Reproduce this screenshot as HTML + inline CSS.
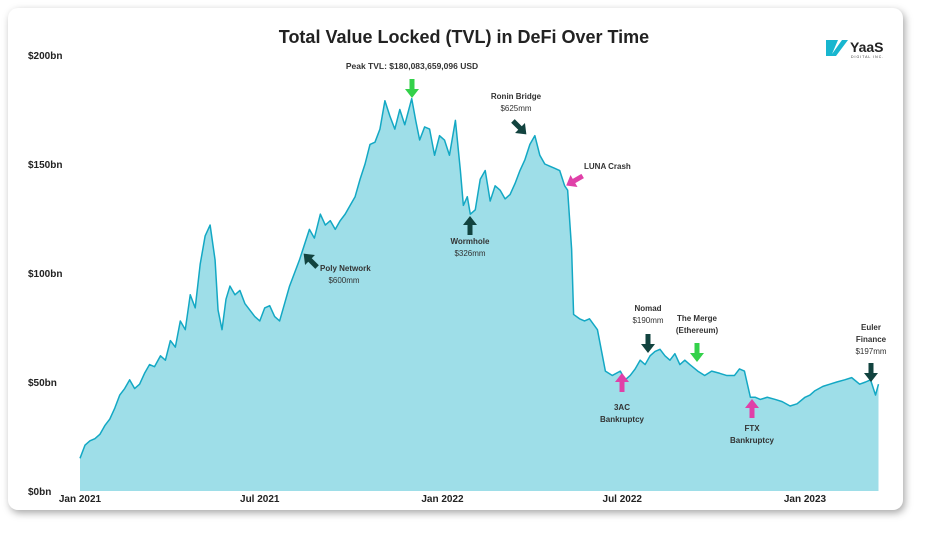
<!DOCTYPE html>
<html><head><meta charset="utf-8"><style>
body{margin:0;width:928px;height:540px;background:#fff;font-family:"Liberation Sans",sans-serif;overflow:hidden}
#card{position:absolute;left:8px;top:8px;width:895px;height:502px;background:#fff;border-radius:10px;box-shadow:2px 3px 8px rgba(0,0,0,0.35)}
svg{position:absolute;left:0;top:0}
</style></head><body>
<div id="card"></div>
<svg id="chart" width="928" height="540"></svg>
<script>
const days=[0,5,10,15,20,25,30,35,40,45,50,55,60,65,70,75,81,86,91,96,101,106,111,116,121,126,131,136,139,143,147,151,156,161,166,171,176,181,186,191,196,201,206,211,216,221,226,231,236,242,247,252,257,262,267,272,277,282,287,292,297,302,307,312,317,322,327,334,338,342,347,352,357,362,367,372,378,383,386,390,393,398,403,408,413,418,423,428,433,438,443,448,453,458,463,468,473,478,483,488,491,495,497,503,508,513,521,529,536,544,549,554,559,564,569,574,579,584,589,594,599,604,609,614,622,629,636,644,651,659,664,669,675,680,685,692,700,707,715,722,730,735,740,748,755,762,770,777,785,791,796,801,804];
const tvl=[15,21,23,24,26,30,33,38,44,47,51,47,49,54,58,57,62,60,69,66,78,74,90,84,104,117,122,106,83,74,88,94,90,92,86,83,80,78,84,85,80,78,86,94,100,106,113,120,116,127,122,124,120,124,127,131,135,143,150,159,160,166,179,172,166,175,168,180,170,161,167,166,154,163,161,154,170,147,131,135,127,129,143,147,133,140,138,134,136,141,147,152,159,163,154,150,149,148,147,140,138,111,81,79,78,79,74,55,53,55,51,53,56,60,58,62,64,65,62,60,63,58,60,58,55,53,55,54,53,53,56,55,43,43,42,43,42,41,39,40,43,44,46,48,49,50,51,52,49,50,51,44,49];
const yTicks=[0,50,100,150,200];
const yTickLabels=["$0bn","$50bn","$100bn","$150bn","$200bn"];
const xTickDays=[0,181,365,546,730];
const xTickLabels=["Jan 2021","Jul 2021","Jan 2022","Jul 2022","Jan 2023"];
const annDays=[334,228,386,437,492,544,574,622,676,799];
const annText=[["Peak TVL: $180,083,659,096 USD"],["Poly Network","$600mm"],["Wormhole","$326mm"],["Ronin Bridge","$625mm"],["LUNA Crash"],["3AC","Bankruptcy"],["Nomad","$190mm"],["The Merge","(Ethereum)"],["FTX","Bankruptcy"],["Euler","Finance","$197mm"]];

const NS="http://www.w3.org/2000/svg";
const svg=document.getElementById('chart');
const X=d=>80+d*(805-80)/730;
const Y=v=>491-v*(491-55)/200;
function el(t,a,p){const e=document.createElementNS(NS,t);for(const k in a)e.setAttribute(k,a[k]);(p||svg).appendChild(e);return e;}

let t=el('text',{x:464,y:43,'text-anchor':'middle','font-size':18,'font-weight':'bold',fill:'#222'});
t.textContent='Total Value Locked (TVL) in DeFi Over Time';


let lg=el('g',{});


el('path',{d:'M826 40 L838 40 L832 54 L842 40 L848 40 L836 56 L826 56 Z',fill:'#18b6cf'},lg);
let lt=el('text',{x:850,y:52,'font-size':14,'font-weight':'bold',fill:'#222'},lg);lt.textContent='YaaS';
let ls=el('text',{x:851,y:58,'font-size':3.5,fill:'#333','letter-spacing':'1'},lg);ls.textContent='DIGITAL INC.';

let dpath='M'+X(days[0])+' '+Y(0);
let lpath='';
days.forEach((d,i)=>{dpath+=' L'+X(d)+' '+Y(tvl[i]);lpath+=(i?' L':'M')+X(d)+' '+Y(tvl[i]);});
dpath+=' L'+X(days[days.length-1])+' '+Y(0)+' Z';
let a=el('path',{d:dpath,fill:'#9edee8'});


let l=el('path',{d:lpath,fill:'none',stroke:'#13a8c4','stroke-width':1.5,'stroke-linejoin':'round'});



yTicks.forEach((v,i)=>{let e=el('text',{x:28,y:Y(v)+4,'font-size':10,'font-weight':'bold',fill:'#222'});e.textContent=yTickLabels[i];

});
xTickDays.forEach((d,i)=>{let e=el('text',{x:X(d),y:502,'text-anchor':'middle','font-size':10,'font-weight':'bold',fill:'#222'});e.textContent=xTickLabels[i];

});

const layout=[[412,69,412,89,0,'#33d14a'],[342,271,310,260,135,'#12433f'],[470,244,470,225,180,'#12433f'],[516,99,520,128,-45,'#12433f'],[605,169,574,181,60,'#e040a8'],[622,410,622,382,180,'#e040a8'],[648,311,648,344,0,'#12433f'],[697,321,697,353,0,'#33d14a'],[752,431,752,408,180,'#e040a8'],[871,330,871,373,0,'#12433f']];
function arrow(x,y,rot,c){
  let g=el('g',{transform:`translate(${x},${y}) rotate(${rot})`});
  
  
  el('path',{d:'M-2.5 -10 L2.5 -10 L2.5 0 L7 0 L0 9 L-7 0 L-2.5 0 Z',fill:c},g);
}
annDays.forEach((d,i)=>{
  const L=layout[i];
  arrow(L[2],L[3],L[4],L[5]);
  const lines=annText[i];
  lines.forEach((s,j)=>{
    const isVal=s.startsWith('$')&&i>0;
    let e=el('text',{x:L[0],y:L[1]+j*12,'text-anchor':i==1?'start':(i==4?'start':'middle'),'font-size':i==0?8.5:8,'font-weight':isVal?'normal':'bold',fill:'#333'});
    if(i==1)e.setAttribute('x',L[0]-22);
    if(i==1&&isVal){e.setAttribute('text-anchor','middle');e.setAttribute('x',L[0]+2);}
    if(i==4)e.setAttribute('x',L[0]-21);
    e.textContent=s;
    
    
  });
});
</script>
</body></html>
